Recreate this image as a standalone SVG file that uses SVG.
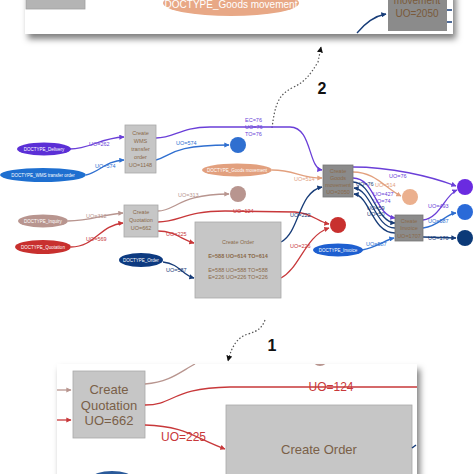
<svg xmlns="http://www.w3.org/2000/svg" width="474" height="474" viewBox="0 0 474 474">
<style>
text{font-family:"Liberation Sans",Arial,sans-serif}
.box{fill:#c6c6c6;stroke:#a9a9a9;stroke-width:0.8}
.dbox{fill:#8b8b8b;stroke:#777;stroke-width:0.8}
.bt{fill:#8a6a4a;font-size:5.5px;text-anchor:middle}
.lt{font-size:5.5px}
.et{fill:#fff;font-size:4.5px;text-anchor:middle}
.c{fill:none;stroke-width:1.3}
.dot{fill:none;stroke:#555;stroke-width:1.2;stroke-dasharray:1.5 2}
</style>
<defs>
<filter id="sh" x="-10%" y="-20%" width="125%" height="160%">
<feDropShadow dx="3" dy="5" stdDeviation="3" flood-color="#000" flood-opacity="0.5"/>
</filter>
<marker id="aP" viewBox="0 0 10 10" refX="9" refY="5" markerWidth="4" markerHeight="4" orient="auto"><path d="M0,0L10,5L0,10z" fill="#6a3fd8"/></marker>
<marker id="aB" viewBox="0 0 10 10" refX="9" refY="5" markerWidth="4" markerHeight="4" orient="auto"><path d="M0,0L10,5L0,10z" fill="#2f6fd0"/></marker>
<marker id="aO" viewBox="0 0 10 10" refX="9" refY="5" markerWidth="4" markerHeight="4" orient="auto"><path d="M0,0L10,5L0,10z" fill="#e2a07e"/></marker>
<marker id="aR" viewBox="0 0 10 10" refX="9" refY="5" markerWidth="4" markerHeight="4" orient="auto"><path d="M0,0L10,5L0,10z" fill="#c8383a"/></marker>
<marker id="aS" viewBox="0 0 10 10" refX="9" refY="5" markerWidth="4" markerHeight="4" orient="auto"><path d="M0,0L10,5L0,10z" fill="#b8958f"/></marker>
<marker id="aN" viewBox="0 0 10 10" refX="9" refY="5" markerWidth="4" markerHeight="4" orient="auto"><path d="M0,0L10,5L0,10z" fill="#173c78"/></marker>
<marker id="aK" viewBox="0 0 10 10" refX="9" refY="5" markerWidth="5" markerHeight="5" orient="auto"><path d="M0,0L10,5L0,10z" fill="#111"/></marker>
<clipPath id="cpTop"><rect x="25" y="0" width="428" height="34"/></clipPath>
<clipPath id="cpBot"><rect x="57" y="364" width="360" height="110"/></clipPath>
</defs>
<rect width="474" height="474" fill="#fff"/>

<!-- top zoom panel -->
<g id="panel-top">
<rect x="25" y="-10" width="428" height="44" fill="#fff" filter="url(#sh)"/>
<g clip-path="url(#cpTop)">
<rect x="26" y="-4" width="59" height="13" fill="#b4b4b4" stroke="#a0a0a0" stroke-width="0.8"/>
<ellipse cx="231" cy="3" rx="68" ry="13" fill="#e8a886"/>
<text x="231" y="8" fill="#fff" font-size="10" text-anchor="middle">DOCTYPE_Goods movement</text>
<rect x="388" y="-4" width="59" height="35" fill="#8b8b8b"/>
<text x="417" y="4" fill="#7a5a3a" font-size="10" text-anchor="middle">movement</text>
<text x="417" y="17" fill="#7a5a3a" font-size="10" text-anchor="middle">UO=2050</text>
<path d="M357,33 C366,22 375,16 386,14" class="c" stroke="#173c78" stroke-width="1.6" marker-end="url(#aN)"/>
<path d="M447,10 L452,10 M447,22 L452,22" stroke="#173c78" stroke-width="1.5"/>
</g>
</g>

<!-- dotted callout arrows -->
<g id="callouts">
<path d="M272,128 C275,105 278,95 292,88 C305,82 310,75 318,62 L321,47" class="dot" marker-end="url(#aK)"/>
<text x="322" y="94" font-size="16" font-weight="bold" fill="#111" text-anchor="middle">2</text>
<path d="M265,320 C262,328 258,331 248,334 C238,337 232,345 228,361" class="dot" marker-end="url(#aK)"/>
<text x="272" y="351" font-size="16" font-weight="bold" fill="#111" text-anchor="middle">1</text>
</g>

<!-- connectors of the middle diagram -->
<g id="connectors">
<path d="M70,149 C90,149 100,138 124,137" class="c" stroke="#6a3fd8" marker-end="url(#aP)"/>
<text x="89" y="146" class="lt" fill="#6a3fd8">UO=262</text>
<path d="M86,175 C100,172 105,161 124,160" class="c" stroke="#2f6fd0" marker-end="url(#aB)"/>
<text x="95" y="168" class="lt" fill="#2f6fd0">UO=574</text>
<path d="M156,138 C175,138 180,127 210,127 L290,127 C312,127 308,168 322,170" class="c" stroke="#6a3fd8" marker-end="url(#aP)"/>
<text x="245" y="122" class="lt" fill="#6a3fd8">EC=76</text>
<text x="245" y="129" class="lt" fill="#6a3fd8">UO=76</text>
<text x="245" y="136" class="lt" fill="#6a3fd8">TO=76</text>
<path d="M156,160 C170,157 170,145 229,145" class="c" stroke="#2f6fd0" marker-end="url(#aB)"/>
<text x="176" y="145" class="lt" fill="#2f6fd0">UO=574</text>
<path d="M272,170 C295,170 300,178 322,178" class="c" stroke="#e2a07e" marker-end="url(#aO)"/>
<text x="294" y="181" class="lt" fill="#e2a07e">UO=514</text>
<path d="M353,172 C375,172 385,188 401,196" class="c" stroke="#e2a07e" marker-end="url(#aO)"/>
<text x="375" y="187" class="lt" fill="#e2a07e">UO=514</text>
<path d="M353,167 C390,167 430,176 456,186" class="c" stroke="#6a3fd8" marker-end="url(#aP)"/>
<text x="389" y="178" class="lt" fill="#6a3fd8">UO=76</text>
<path d="M353,178 C375,178 375,215 395,218" class="c" stroke="#6a3fd8" marker-end="url(#aP)"/>
<path d="M353,182 C372,182 376,222 395,223" class="c" stroke="#173c78" marker-end="url(#aN)"/>
<path d="M395,228 C375,228 372,190 354,188" class="c" stroke="#173c78" marker-end="url(#aN)"/>
<path d="M395,233 C372,233 370,196 354,194" class="c" stroke="#173c78" marker-end="url(#aN)"/>
<text x="356" y="186" class="lt" fill="#173c78">UO=76</text>
<text x="373" y="196" class="lt" fill="#6a3fd8">UO=427</text>
<text x="373" y="203" class="lt" fill="#6a3fd8">UO=74</text>
<text x="367" y="210" class="lt" fill="#173c78">UO=59</text>
<text x="367" y="216" class="lt" fill="#173c78">UO=50</text>
<path d="M423,220 C440,218 445,195 457,190" class="c" stroke="#6a3fd8" marker-end="url(#aP)"/>
<text x="428" y="208" class="lt" fill="#6a3fd8">UO=493</text>
<path d="M423,228 C440,226 445,214 456,213" class="c" stroke="#2f6fd0" marker-end="url(#aB)"/>
<text x="428" y="223" class="lt" fill="#2f6fd0">UO=587</text>
<path d="M423,237 L456,238" class="c" stroke="#173c78" marker-end="url(#aN)"/>
<text x="428" y="240" class="lt" fill="#173c78">UO=170</text>
<path d="M362,250 C378,247 385,240 394,238" class="c" stroke="#2f6fd0" marker-end="url(#aB)"/>
<text x="366" y="246" class="lt" fill="#2f6fd0">UO=587</text>

<path d="M68,221 C90,221 105,214 123,213" class="c" stroke="#b8958f" marker-end="url(#aS)"/>
<text x="86" y="218" class="lt" fill="#b8958f">UO=312</text>
<path d="M71,247 C95,247 100,225 123,223" class="c" stroke="#c8383a" marker-end="url(#aR)"/>
<text x="86" y="241" class="lt" fill="#c8383a">UO=569</text>
<path d="M158,211 C175,211 180,194 229,194" class="c" stroke="#b8958f" marker-end="url(#aS)"/>
<text x="178" y="197" class="lt" fill="#b8958f">UO=313</text>
<path d="M158,222 C180,222 185,211 225,211 L295,212 C312,213 318,222 329,224" class="c" stroke="#c8383a" marker-end="url(#aR)"/>
<text x="233" y="213" class="lt" fill="#c8383a">UO=124</text>
<path d="M158,231 C175,231 182,240 194,243" class="c" stroke="#c8383a" marker-end="url(#aR)"/>
<text x="166" y="236" class="lt" fill="#c8383a">UO=225</text>
<path d="M163,262 C180,264 182,275 194,278" class="c" stroke="#173c78" marker-end="url(#aN)"/>
<text x="166" y="272" class="lt" fill="#173c78">UO=587</text>
<path d="M281,242 C300,232 298,192 322,187" class="c" stroke="#173c78" marker-end="url(#aN)"/>
<text x="290" y="217" class="lt" fill="#173c78">UO=222</text>
<path d="M281,278 C300,268 305,236 329,228" class="c" stroke="#c8383a" marker-end="url(#aR)"/>
<text x="290" y="248" class="lt" fill="#c8383a">UO=226</text>
</g>

<!-- nodes of the middle diagram -->
<g id="n-delivery"><ellipse cx="44" cy="149" rx="27" ry="6.5" fill="#5b2fd6"/><text x="44" y="150.5" class="et">DOCTYPE_Delivery</text></g>
<g id="n-wmsdoc"><ellipse cx="43" cy="175" rx="43" ry="7" fill="#1e6fd0"/><text x="43" y="176.5" class="et">DOCTYPE_WMS transfer order</text></g>
<g id="n-wms"><rect x="125" y="125" width="31" height="48" class="box"/>
<text x="140.5" y="135" class="bt">Create</text><text x="140.5" y="143" class="bt">WMS</text><text x="140.5" y="151" class="bt">transfer</text><text x="140.5" y="159" class="bt">order</text><text x="140.5" y="167" class="bt">UO=1148</text></g>
<g id="n-bluecircle1"><circle cx="238" cy="145" r="8" fill="#2f6fd0"/></g>
<g id="n-gmdoc"><ellipse cx="237" cy="170" rx="35" ry="6.5" fill="#e2a07e"/><text x="237" y="171.5" class="et">DOCTYPE_Goods movement</text></g>
<g id="n-gm"><rect x="323" y="165" width="30" height="32" class="dbox"/>
<text x="338" y="173" class="bt">Create</text><text x="338" y="180" class="bt">Goods</text><text x="338" y="187" class="bt">movement</text><text x="338" y="194" class="bt">UO=2050</text></g>
<g id="n-orangecircle"><circle cx="410" cy="197" r="8" fill="#ebb08e"/></g>
<g id="n-p1"><circle cx="465" cy="187" r="8" fill="#6a2be0"/></g>
<g id="n-p2"><circle cx="465" cy="212" r="8" fill="#2a6ad8"/></g>
<g id="n-p3"><circle cx="465" cy="238" r="8" fill="#0c3a78"/></g>
<g id="n-invoice"><rect x="395" y="215" width="28" height="26" class="dbox"/>
<text x="409" y="223" class="bt">Create</text><text x="409" y="230" class="bt">Invoice</text><text x="409" y="238" class="bt">UO=1707</text></g>
<g id="n-invdoc"><ellipse cx="338" cy="250" rx="25" ry="6.5" fill="#1e5fd0"/><text x="338" y="251.5" class="et">DOCTYPE_Invoice</text></g>
<g id="n-inquiry"><ellipse cx="43" cy="221" rx="25" ry="6.5" fill="#b8958f"/><text x="43" y="222.5" class="et">DOCTYPE_Inquiry</text></g>
<g id="n-quotdoc"><ellipse cx="43" cy="247" rx="28" ry="7" fill="#c8302e"/><text x="43" y="248.5" class="et">DOCTYPE_Quotation</text></g>
<g id="n-quot"><rect x="124" y="205" width="34" height="32" class="box"/>
<text x="141" y="214" class="bt">Create</text><text x="141" y="222" class="bt">Quotation</text><text x="141" y="230" class="bt">UO=662</text></g>
<g id="n-rosecircle"><circle cx="238" cy="194" r="8" fill="#b8958f"/></g>
<g id="n-redcircle"><circle cx="338" cy="225" r="8" fill="#c8302e"/></g>
<g id="n-orderdoc"><ellipse cx="141" cy="260" rx="22" ry="7" fill="#0d3a80"/><text x="141" y="261.5" class="et">DOCTYPE_Order</text></g>
<g id="n-order"><rect x="195" y="222" width="86" height="76" class="box"/>
<text x="238" y="244" class="bt">Create Order</text>
<text x="238" y="258" class="bt" font-weight="bold">E=588 UO=614 TO=614</text>
<text x="238" y="272" class="bt" fill="#5a7294">E=588 UO=588 TO=588</text>
<text x="238" y="279" class="bt" fill="#d06060">E=226 UO=226 TO=226</text></g>

<!-- bottom zoom panel -->
<g id="panel-bottom">
<rect x="57" y="364" width="360" height="120" fill="#fff" filter="url(#sh)"/>
<g clip-path="url(#cpBot)">
<circle cx="320" cy="358" r="8" fill="#b8958f"/>
<path d="M57,390 L71,390" class="c" stroke="#b8958f" stroke-width="1.6" marker-end="url(#aS)"/>
<path d="M57,420 L71,420" class="c" stroke="#c8383a" stroke-width="1.6" marker-end="url(#aR)"/>
<rect x="73" y="371" width="72" height="67" class="box"/>
<text x="109" y="394" fill="#7a6048" font-size="13" text-anchor="middle">Create</text>
<text x="109" y="410" fill="#7a6048" font-size="13" text-anchor="middle">Quotation</text>
<text x="109" y="425" fill="#7a6048" font-size="13" text-anchor="middle">UO=662</text>
<path d="M145,384 C170,382 180,372 195,364" class="c" stroke="#b8958f" stroke-width="1.6"/>
<path d="M145,405 C175,405 170,388 230,387 L417,387" class="c" stroke="#c8383a" stroke-width="1.6"/>
<text x="331" y="391" fill="#c8383a" font-size="12" text-anchor="middle">UO=124</text>
<path d="M145,425 C185,426 195,438 225,449" class="c" stroke="#c8383a" stroke-width="1.6" marker-end="url(#aR)"/>
<text x="161" y="441" fill="#c8383a" font-size="12">UO=225</text>
<rect x="226" y="405" width="186" height="80" class="box"/>
<text x="319" y="454" fill="#7a6048" font-size="13" text-anchor="middle">Create Order</text>
<ellipse cx="112" cy="478" rx="20" ry="7" fill="#2a5a9a"/>
<path d="M412,448 L416,445" stroke="#173c78" stroke-width="1.5"/>
</g>
</g>
</svg>
